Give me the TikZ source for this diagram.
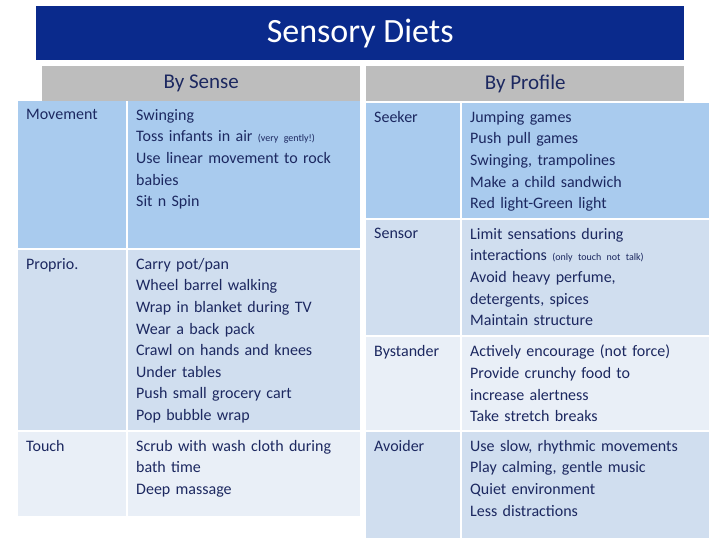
\documentclass[tikz,border=0pt]{standalone}
\usepackage{fontspec}
\setmainfont{Carlito}
\definecolor{navy}{HTML}{0A2A8C}
\definecolor{ink}{HTML}{1C2860}
\definecolor{headgray}{HTML}{BDBDBD}
\definecolor{blueA}{HTML}{A9CBEE}
\definecolor{blueB}{HTML}{D0DEEF}
\definecolor{blueC}{HTML}{E9EFF7}
\tikzset{
  cellbox/.style={draw=none, anchor=north west, inner sep=0pt},
  celltext/.style={anchor=north west, inner sep=0pt, align=left, text=ink,
    font=\fontsize{16}{21.6}\selectfont},
  headbox/.style={fill=headgray, anchor=north west, inner sep=0pt, text=ink,
    font=\fontsize{21}{25}\selectfont}
}
% cell: x, y, w, h, fill, name, text
\newcommand{\cell}[7]{%
  \node[cellbox, fill=#5, minimum width=#3, minimum height=#4] (#6) at (#1,#2) {};
  \node[celltext, text width=#3-14] (#6txt) at (#1+8,#2+8) {#7};}
\newcommand{\tinynote}[1]{{\fontsize{10}{12}\selectfont #1}}
\begin{document}
\begin{tikzpicture}[x=1pt, y=-1pt]
    \useasboundingbox (0,0) rectangle (720,540);
    % Title and headers
    \node[anchor=north west, fill=navy, minimum width=648, minimum height=54,
      inner sep=0pt, text=white, font=\fontsize{34}{40}\selectfont] (title) at (36,6) {Sensory Diets};
    \node[headbox, minimum width=318, minimum height=35] (sense) at (42,66) {By Sense};
    \node[headbox, minimum width=318, minimum height=35] (profile) at (366,66) {By Profile};
    % By sense
    \cell{18}{101}{108}{147}{blueA}{mov}{Movement}
    \cell{128}{101}{232}{147}{blueA}{movx}{Swinging\\Toss infants in air \tinynote{(very gently!)}\\Use linear movement to rock babies\\Sit n Spin}
    \cell{18}{250}{108}{180}{blueB}{pro}{Proprio.}
    \cell{128}{250}{232}{180}{blueB}{prox}{Carry pot/pan\\Wheel barrel walking\\Wrap in blanket during TV\\Wear a back pack\\Crawl on hands and knees\\Under tables\\Push small grocery cart\\Pop bubble wrap}
    \cell{18}{432}{108}{84}{blueC}{tou}{Touch}
    \cell{128}{432}{232}{84}{blueC}{toux}{Scrub with wash cloth during bath time\\Deep massage}
    % By profile
    \cell{366}{103}{94}{115}{blueA}{see}{Seeker}
    \cell{462}{103}{247}{115}{blueA}{seex}{Jumping games\\Push pull games\\Swinging, trampolines\\Make a child sandwich\\Red light-Green light}
    \cell{366}{220}{94}{115}{blueB}{sen}{Sensor}
    \cell{462}{220}{247}{115}{blueB}{senx}{Limit sensations during\\interactions \tinynote{(only touch not talk)}\\Avoid heavy perfume,\\detergents, spices\\Maintain structure}
    \cell{366}{337}{94}{93}{blueC}{bys}{Bystander}
    \cell{462}{337}{247}{93}{blueC}{bysx}{Actively encourage (not force)\\Provide crunchy food to\\increase alertness\\Take stretch breaks}
    \cell{366}{432}{94}{106}{blueB}{avo}{Avoider}
    \cell{462}{432}{247}{106}{blueB}{avox}{Use slow, rhythmic movements\\Play calming, gentle music\\Quiet environment\\Less distractions}
\end{tikzpicture}
\end{document}
